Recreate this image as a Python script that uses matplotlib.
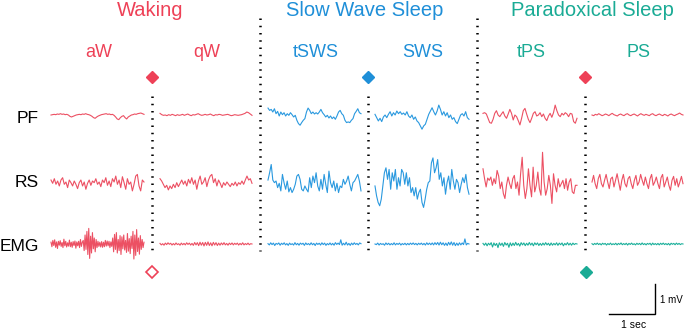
import numpy as np
import matplotlib
matplotlib.use("Agg")
import matplotlib.pyplot as plt

plt.rcParams["font.family"] = ["Liberation Sans", "DejaVu Sans"]

# colours
RED = "#ee4157"
BLUE = "#1f8fd8"
TEAL = "#1aab95"
RED_TR = "#ec5063"
BLUE_TR = "#2a99df"
TEAL_TR = "#1cb09b"

# labels
sections = ["Waking", "Slow Wave Sleep", "Paradoxical Sleep"]
states = ["aW", "qW", "tSWS", "SWS", "tPS", "PS"]
channels = ["PF", "RS", "EMG"]

# traces, values in microvolts (positive = up)
pf_aw = [0, 11, 22, 11, 33, 22, 44, 22, 33, 11, 22, 0, -44, -66, -44, -22, 0, 11, 22, 11,
         33, 22, 44, 22, 11, -11, -44, -88, -110, -66, -33, -11, 11, 22, 33, 44, 22, 33, 11, 22,
         -11, -66, -132, -154, -88, -44, -22, -88, -132, -66, -33, 0, 11, 33, 22, 44, 55, 66, 44, 22]
pf_qw = [55, 11, -11, 0, -22, 11, -11, 22, 0, -22, 11, -11, 0, 22, -11, 11, 33, 0, -22, 11,
         0, 22, 44, 11, -11, 0, 22, 0, 11, 33, 0, -22, 11, 0, 22, 11, -11, 0, 11, 22,
         0, -22, -11, 11, 0, -11, 0, 11, 33, 55, 99, 77, 33, -11]
pf_tsws = [231, 154, 187, 99, 209, 44, 121, -33, 99, 11, 77, -33, 44, -11, 77, 11, -66, -11, -176, -286,
           -341, -253, -176, -121, 99, 231, 154, 44, 99, 33, 77, 33, 99, 187, 77, 11, -66, -11, -99, -33,
           -121, -66, -143, -33, 99, 154, 44, -11, -176, -253, -231, -253, -176, -121, 44, 121, 209, 77, 44]
pf_sws = [22, -88, -198, -110, -220, -66, 0, -88, 22, 110, -33, 77, 0, 132, 44, 110, 22, 66, 0, 110,
          -33, -88, 0, -143, -66, -198, -253, -363, -473, -363, -308, -143, 22, 132, 242, 110, 0, 132, 330, 187,
          0, 110, -33, 77, -88, 0, -143, -88, -220, -286, -143, 0, 44, -33, 110, -88, -143]
pf_tps = [55, 77, 33, -110, -253, -275, -143, 55, 143, 0, -55, 33, 110, -33, -110, 33, 187, 55, -165, 0,
          -55, -187, -330, -110, 143, 220, 33, -143, -253, -110, 55, 110, -33, 0, 77, -55, 33, -110, -187, -33,
          55, -77, 77, 330, 143, 0, -55, 55, 0, 77, 33, -55, 55, 33, -220, -275, -110]
pf_ps = [0, -22, 22, 0, 44, 11, -22, 0, 33, 11, -22, 22, 55, 11, -11, -33, 11, 33, 0, -22,
         22, 44, 0, -22, 11, 33, 0, -33, 11, 44, 11, -11, 22, 0, -22, 22, 44, 0, -22, 11,
         33, 0, -22, 22, 0, -33, 11, 33, 0, -22, 11, 33, 66, 22, 0]

rs_aw = [66, -44, 110, -77, 33, -132, 66, 143, -77, 0, -187, 66, -22, -132, 33, -77, -220, -22, 66, -132,
         0, -242, -44, 66, -110, 33, -22, 110, -77, 0, -154, 66, -22, 143, -110, 33, -154, 110, 0, 198,
         -77, 66, -187, 176, -22, -242, 110, -77, 0, -297, -77, 198, 253, -132, -297, 66, 0]
rs_qw = [110, 33, -77, -187, -110, -264, -132, -220, -77, -187, -22, -154, -44, 66, -77, 33, -132, 88, -44, 143,
         -77, 66, -242, 33, 198, -77, 0, 143, -154, 66, 198, 253, -22, 110, -132, 66, -44, -187, -22, -110,
         0, -77, -154, -44, -110, 0, -132, -22, -77, 33, -77, 66, 198, 66, 110, -44]
rs_tsws = [66, 308, 583, 66, -22, 33, -187, -44, -297, 253, -22, -242, 33, -330, -187, -352, -242, -77, 198, 253,
           88, -242, -297, -132, -242, -330, 143, -187, 198, -22, 308, -132, -297, 88, -242, 253, -77, -352, 363, -22,
           -187, 33, -297, -44, -352, -132, -187, 88, -77, 33, 198, -77, -297, -22, 33, 143, 253, 33, -297]
rs_sws = [-132, -462, -682, -792, -572, -132, 308, 473, 88, 418, -242, 308, 33, 418, -242, 143, -132, 418, 308, -77,
          308, -132, 143, -352, -187, -462, -187, -572, -352, -242, -682, -847, -572, -242, -22, 33, 638, 803, 308, 473,
          748, 88, 308, -132, 143, -407, -22, 198, -242, 418, 33, -242, 88, -22, -352, -77, 143, -22, 253, -187, -407]
rs_tps = [440, 110, -165, 132, 55, 165, -110, 110, -55, 385, 198, -220, 0, -385, -550, -110, 165, -55, -220, 110,
          220, -220, 0, -440, 275, 825, -110, -550, -220, 440, -110, -495, 495, -330, -110, 330, -220, -440, 990, 0,
          -440, -220, 220, -110, -715, 275, -110, -330, 110, -165, -55, 55, -220, 110, -275, 0, 110, -330, -385, -110, -110]
rs_ps = [0, 220, -55, -220, 110, 253, -55, -165, 55, 253, 0, -220, 110, 165, -165, 55, 275, 0, -275, 55,
         253, -55, -165, 110, 187, -55, -220, 55, 220, -110, 0, 253, 55, -110, 165, -55, -220, 110, 253, -110,
         0, 165, -55, -220, 143, 253, -165, 0, 165, -110, -275, 55, 187, -110, 110, -165, 0, 187, -55]

emg_aw = [60, -90, 120, -50, 140, -110, 70, -150, 90, -40, 110, -80, 50, -120, 160, -60, 90, -100, 40, -70,
          130, -90, 60, -110, 80, -50, 100, -140, 70, -60, 90, -120, 150, -80, 60,
          120, -220, 300, -180, 420, -350, 520, -480, 260, -300, 380, -160, 200, -260, 150, -120, 90, -80, 60, -100,
          80, -110, 60, -90, 120, -70, 100, -60, 90, -120, 70, -80,
          200, -260, 320, -180, 380, -300, 150, -220, 280, -350, 240, -160, 300, -200, 120, -280, 350, -240, 180, -320,
          260, -150, 420, -500, 300, -380, 480, -250, 200, -340, 280, -180, 150, -120, 60]
emg_qw = [20, -30, 10, -40, 30, -20, 40, -10, 25, -35, 15, -30, 35, -20, 10, -40, 30, -25, 20, -30,
          40, -15, 30, -35, 20, -45, 50, -30, 45, -55, 60, -40, 50, -65, 55, -45, 70, -50, 40, -60,
          55, -35, 45, -50, 30, -40, 35, -25, 45, -30, 20, -40, 30, -20, 35, -30, 25, -15, 30, -35,
          20, -25, 40, -30, 15, -20, 30, -25, 10, 0]
emg_tsws = [10, -30, 40, -20, 30, -50, 20, -10, 35, -40, 25, -15, 40, -30, 15, -45, 30, -20, 10, -35,
            45, -25, 20, -40, 30, -10, 25, -45, 35, -20, 15, -30, 40, -25, 20, -50, 30, -15, 25, -35,
            40, -20, 30, -45, 15, -25, 35, -30, 20, -40, 45, -15, 30, -20, 140, -40, 25, -30, 60, -35,
            20, -45, 30, -25, 40, -15, 20, -30, 35, 10]
emg_sws = [0, -20, 30, -35, 20, -15, 10, -40, 35, -20, 25, -30, 15, -25, 40, -30, 20, -15, 30, -35,
           15, -20, 25, -30, 20, -25, 30, -15, 35, -20, 20, -30, 25, -15, 30, -25, 20, -35, 40, -20,
           30, -25, 35, -30, 45, -20, 50, -35, 60, -25, 40, -45, 30, -50, 55, -30, 70, -40, 50, -55,
           30, -45, 40, -30, 35, -20, 170, -30, 20, 0]
emg_tps = [20, -40, 30, -60, 25, -30, 45, -100, 35, -50, 20, -120, 40, -45, 30, -80, 50, -35, 25, -110,
           40, -60, 30, -50, 55, -40, 20, -70, 45, -30, 35, -55, 25, -40, 50, -35, 30, -60, 40, -25,
           35, -50, 20, -45, 30, -35, 45, -30, 25, -50, 35, -40, 20, -30, 40, -45, 30, -25, 35, -60,
           20, -30, 45, -35, 25, -40, 30, -20, 15, 0]
emg_ps = [10, -25, 20, -15, 30, -20, 15, -30, 25, -10, 20, -35, 15, -20, 30, -25, 10, -20, 25, -30,
          20, -15, 35, -25, 15, -20, 25, -35, 20, -15, 30, -20, 10, -30, 25, -15, 20, -25, 35, -20,
          15, -30, 20, -10, 25, -35, 30, -20, 15, -25, 20, -30, 25, -15, 30, -20, 15, -25, 20, -35,
          25, -10, 20, -25, 30, -15, 20, -20, 10, 0]

traces = {
    "PF": [pf_aw, pf_qw, pf_tsws, pf_sws, pf_tps, pf_ps],
    "RS": [rs_aw, rs_qw, rs_tsws, rs_sws, rs_tps, rs_ps],
    "EMG": [emg_aw, emg_qw, emg_tsws, emg_sws, emg_tps, emg_ps],
}

# layout (figure pixels)
W, H = 685, 329
PX_PER_UV = 30 / 1000.0          # 1 mV scale bar = 30 px
state_x = [(51, 144), (160, 252), (268, 361), (375, 469), (483, 577), (592, 683)]
row_y = {"PF": 115, "RS": 182, "EMG": 244}
state_colors = [RED, RED, BLUE, BLUE, TEAL, TEAL]
trace_colors = {
    "PF": [RED_TR, RED_TR, BLUE_TR, BLUE_TR, RED_TR, RED_TR],
    "RS": [RED_TR, RED_TR, BLUE_TR, BLUE_TR, RED_TR, RED_TR],
    "EMG": [RED_TR, RED_TR, BLUE_TR, BLUE_TR, TEAL_TR, TEAL_TR],
}

fig = plt.figure(figsize=(W / 100, H / 100), dpi=100)
ax = fig.add_axes([0, 0, 1, 1])
ax.set_xlim(0, W)
ax.set_ylim(H, 0)
ax.axis("off")

# section titles
for name, cx, col in zip(sections, [150, 365, 592], [RED, BLUE, TEAL]):
    ax.text(cx, 16, name, color=col, fontsize=14.5, ha="center", va="baseline")

# state labels
for lab, (x0, x1), col in zip(states, state_x, state_colors):
    ax.text((x0 + x1) / 2 + 1, 57, lab, color=col, fontsize=13, ha="center", va="baseline")

# channel labels
for ch, yb in zip(channels, [123, 187, 251]):
    ax.text(39, yb, ch, color="black", fontsize=12.5, ha="right", va="baseline")

# traces
for ch in channels:
    for i, vals in enumerate(traces[ch]):
        x0, x1 = state_x[i]
        v = np.array(vals, dtype=float)
        xs = np.linspace(x0, x1, len(v))
        ax.plot(xs, row_y[ch] - v * PX_PER_UV, color=trace_colors[ch][i], lw=0.8,
                solid_joinstyle="round")

# dotted separators
dot_style = dict(color="black", lw=1.8, linestyle=(0, (0.6, 2.3)), dash_capstyle="butt")
for x in [152, 368, 585]:
    ax.plot([x, x], [96, 251], **dot_style)
for x in [260, 477]:
    ax.plot([x, x], [18, 251], **dot_style)

# transition markers
ax.plot([152], [77], marker="D", ms=6.5, color=RED, mec=RED)
ax.plot([368], [77], marker="D", ms=6.5, color=BLUE, mec=BLUE)
ax.plot([585], [77], marker="D", ms=6.5, color=RED, mec=RED)
ax.plot([152], [272], marker="D", ms=6, mfc="white", mec=RED, mew=1.2)
ax.plot([586], [272], marker="D", ms=6.5, color=TEAL, mec=TEAL)

# scale bar
ax.plot([609, 655, 655], [314, 314, 284], color="black", lw=1.0, solid_joinstyle="miter")
ax.text(660, 303, "1 mV", fontsize=7, ha="left", va="baseline")
ax.text(634, 320, "1 sec", fontsize=7.5, ha="center", va="top")

fig.savefig("out.png", dpi=100)
plt.close(fig)
